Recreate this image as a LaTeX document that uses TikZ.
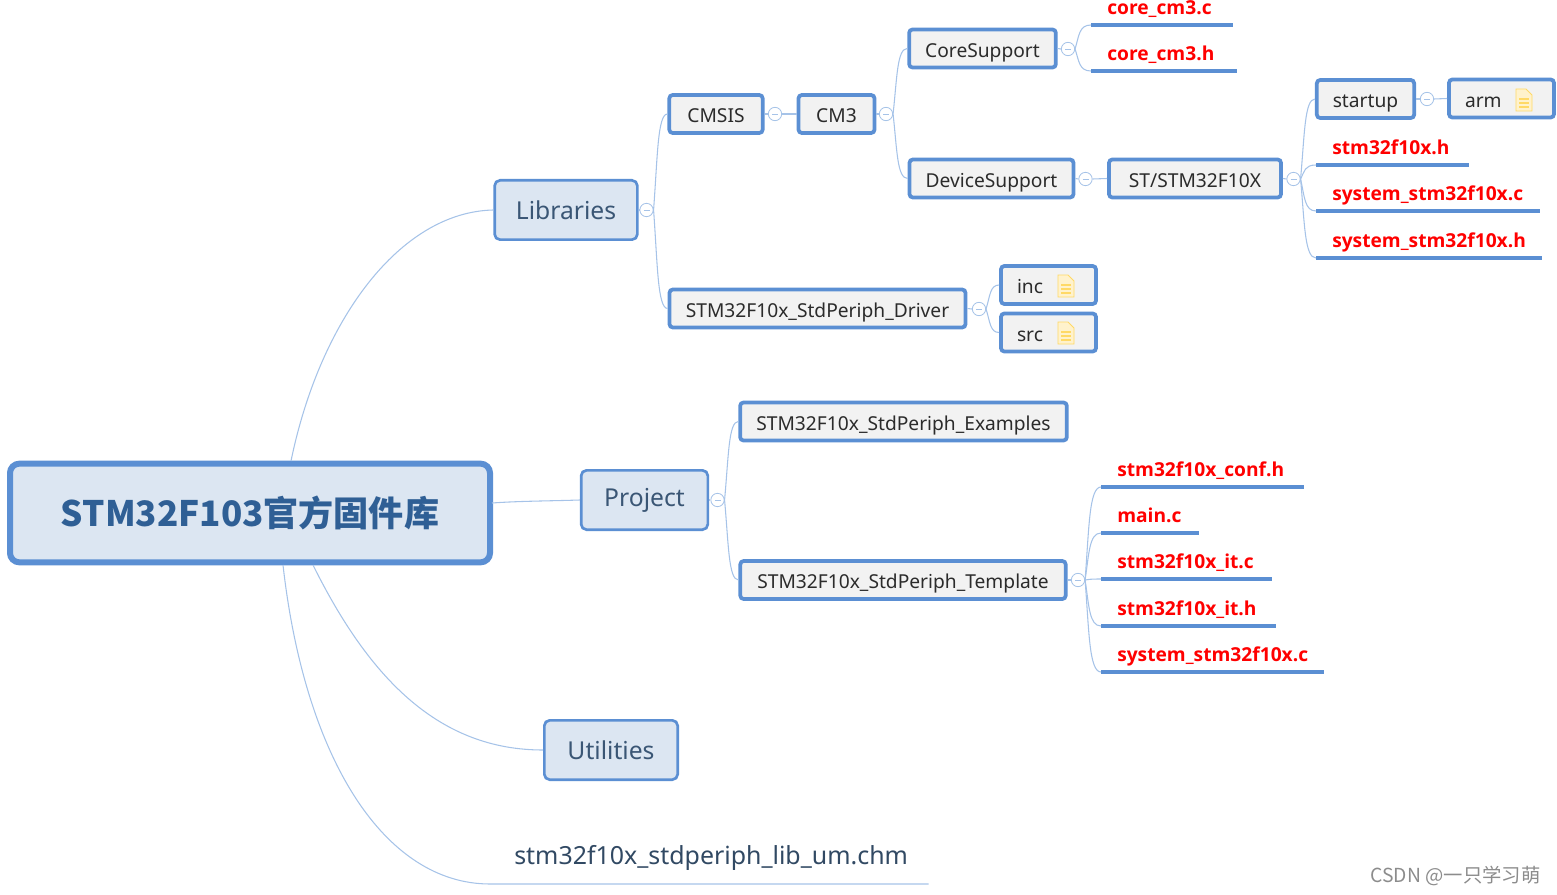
\documentclass[tikz,border=0pt]{standalone}
\usepackage{fontspec}
\setmainfont{Noto Sans}
\newfontfamily\cjk{Noto Sans CJK SC}
\newfontfamily\leaffont{Open Sans}
\usetikzlibrary{calc}
\definecolor{boxblue}{HTML}{5B8FD3}
\definecolor{linkblue}{HTML}{A6C3E8}
\definecolor{topfill}{HTML}{DCE6F2}
\definecolor{subfill}{HTML}{F2F2F2}
\definecolor{rootink}{HTML}{2F5F95}
\definecolor{topink}{HTML}{3A5675}
\definecolor{subink}{HTML}{2B2B2B}
\definecolor{notefill}{HTML}{FFF2CC}
\definecolor{noteline}{HTML}{FFD966}
\tikzset{
	rootbox/.style={draw=boxblue,fill=topfill,line width=4.5pt,rounded corners=7pt,minimum width=360pt,minimum height=74pt,text=rootink,font=\cjk\bfseries\fontsize{26.3}{32}\selectfont},
	topbox/.style={draw=boxblue,fill=topfill,line width=2pt,rounded corners=4pt,minimum height=44.5pt,text=topink,font=\fontsize{18.5}{23}\selectfont},
	subbox/.style={draw=boxblue,fill=subfill,line width=2.8pt,rounded corners=2.5pt,minimum height=28.5pt,inner xsep=0pt,text height=14pt,text depth=1.2pt,text=subink,font=\fontsize{14.4}{17}\selectfont},
	filebox/.style={subbox,inner xsep=12pt,text width={(#1-32)*0.75pt},align=left},
	leaf/.style={anchor=south west,inner ysep=0pt,inner xsep=12pt,minimum height=26pt,text width={(#1-32)*0.75pt},align=left,text height=14pt,text depth=3pt,text=red,font=\leaffont\bfseries\fontsize{14.4}{17}\selectfont},
	fold/.style={circle,draw=linkblue,fill=white,line width=0.6pt,minimum size=10pt,inner sep=0pt,path picture={\draw[linkblue,line width=0.6pt] ($(path picture bounding box.center)+(-3,0)$) -- ++(6,0);}},
	branch/.style={draw=linkblue,line width=0.8pt,to path={.. controls ($(\tikztostart |- \tikztotarget)!0.45!(\tikztostart)+(4,0)$) and ($(\tikztostart |- \tikztotarget)+(4,0)$) .. (\tikztotarget)}},
	stem/.style={draw=linkblue,line width=0.8pt},
	rule/.style={draw=boxblue,line width=3pt},
	notepic/.pic={
		\draw[draw=noteline,fill=notefill,line width=0.7pt] (-8,-11) -- (2,-11) -- (8,-5) -- (8,11) -- (-8,11) -- cycle;
		\draw[draw=noteline,line width=0.9pt] (-5,-1) -- (5,-1) (-5,3) -- (5,3) (-5,7) -- (5,7);
	}
}
\begin{document}
\begin{tikzpicture}[x=0.75pt,y=-0.75pt]
	\useasboundingbox (0,0) rectangle (1557,895);
	\node[rootbox] (root) at (250,513) {STM32F103官方固件库};
	\node[topbox,minimum width=107pt] (libs) at (566,210) {Libraries};
	\node[topbox,minimum width=95pt] (proj) at (644.5,500) {Project};
	\node[topbox,minimum width=100pt] (utils) at (611,750) {Utilities};
	\node[anchor=south west,inner xsep=18pt,inner ysep=0pt,text width=292.5pt,align=left,minimum height=38pt,text height=13pt,text depth=4pt,text=topink!85!black,font=\fontsize{18.7}{23}\selectfont] (chm) at (490,884) {stm32f10x\_stdperiph\_lib\_um.chm};
	\node[subbox,minimum width=70pt] (cmsis) at (716,114) {CMSIS};
	\node[subbox,minimum width=57pt] (cmthree) at (836.5,114) {CM3};
	\node[subbox,minimum width=110pt] (core) at (982.5,48.5) {CoreSupport};
	\node[subbox,minimum width=123pt] (device) at (991.5,178.5) {DeviceSupport};
	\node[subbox,minimum width=129pt] (stdir) at (1195,178.5) {ST/STM32F10X};
	\node[subbox,minimum width=73pt] (startup) at (1365.5,99) {startup};
	\node[filebox=105] (arm) at (1501.5,98.5) {arm};
	\node[subbox,minimum width=222pt] (driver) at (817.5,308.5) {STM32F10x\_StdPeriph\_Driver};
	\node[filebox=95] (inc) at (1048.5,285) {inc};
	\node[filebox=95] (src) at (1048.5,332.5) {src};
	\node[subbox,minimum width=245pt] (examples) at (903.5,421.5) {STM32F10x\_StdPeriph\_Examples};
	\node[subbox,minimum width=244pt] (template) at (903,580) {STM32F10x\_StdPeriph\_Template};
	\node[leaf=141] (corec) at (1091,25) {core\_cm3.c};
	\node[leaf=145] (coreh) at (1091,71) {core\_cm3.h};
	\node[leaf=152] (stmh) at (1316,165) {stm32f10x.h};
	\node[leaf=223] (sysc) at (1316,211) {system\_stm32f10x.c};
	\node[leaf=225] (sysh) at (1316,258) {system\_stm32f10x.h};
	\node[leaf=202] (conf) at (1101,487) {stm32f10x\_conf.h};
	\node[leaf=97] (mainc) at (1101,533) {main.c};
	\node[leaf=170] (itc) at (1101,579) {stm32f10x\_it.c};
	\node[leaf=174] (ith) at (1101,626) {stm32f10x\_it.h};
	\node[leaf=222] (tsys) at (1101,672) {system\_stm32f10x.c};
	\node[fold] (libsfold) at (646.5,210) {};
	\node[fold] (cmsisfold) at (775,114) {};
	\node[fold] (cmfold) at (886,114) {};
	\node[fold] (corefold) at (1068,49) {};
	\node[fold] (devfold) at (1085.5,179) {};
	\node[fold] (stfold) at (1293.5,179) {};
	\node[fold] (startfold) at (1427,99) {};
	\node[fold] (drvfold) at (979,309) {};
	\node[fold] (projfold) at (717.5,500) {};
	\node[fold] (tmplfold) at (1078,580) {};
	\foreach \a/\b in {libs/libsfold,cmsis/cmsisfold,cmthree/cmfold,core/corefold,device/devfold,stdir/stfold,startup/startfold,driver/drvfold,proj/projfold,template/tmplfold}
		\draw[stem] (\a.east) -- (\b.west);
	\foreach \a/\b in {libsfold/cmsis,libsfold/driver,cmfold/core,cmfold/device,stfold/startup,drvfold/inc,drvfold/src,projfold/examples,projfold/template}
		\draw[branch] (\a.east) to (\b.west);
	\draw[stem] (cmsisfold.east) -- (cmthree.west);
	\draw[stem] (devfold.east) -- (stdir.west);
	\draw[stem] (startfold.east) -- (arm.west);
	\foreach \a/\b in {corefold/corec,corefold/coreh,stfold/stmh,stfold/sysc,stfold/sysh,tmplfold/conf,tmplfold/mainc,tmplfold/itc,tmplfold/ith,tmplfold/tsys}{
		\draw[branch] (\a.east) to (\b.south west);
		\draw[rule] (\b.south west) -- (\b.south east);
	}
	\coordinate (rootup) at (291,461);
	\coordinate (rootright) at (492,503);
	\coordinate (rootutil) at (313,565);
	\coordinate (rootchm) at (283,565);
	\draw[stem] (rootup) .. controls (320,320) and (400,212) .. (libs.west);
	\draw[stem] (rootright) .. controls (520,501) and (550,501) .. (proj.west);
	\draw[stem] (rootutil) .. controls (370,680) and (440,750) .. (utils.west);
	\draw[stem] (rootchm) .. controls (305,760) and (385,884) .. (chm.south west) -- (chm.south east);
	\draw (1455.5,876) node[text=black!45,font=\cjk\fontsize{14.5}{17}\selectfont] (mark) {CSDN @一只学习萌};
	\path (1524,100) pic {notepic};
	\path (1066,286) pic {notepic};
	\path (1066,333) pic {notepic};
\end{tikzpicture}
\end{document}
